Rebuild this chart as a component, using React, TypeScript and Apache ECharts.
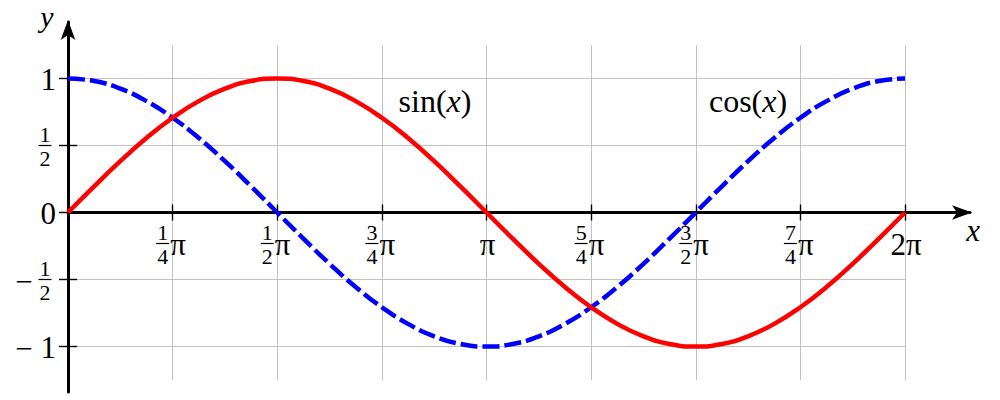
import React, { useEffect, useRef } from "react";
import * as echarts from "echarts";

// x in units of pi
const xValues = [0, 0.0625, 0.125, 0.1875, 0.25, 0.3125, 0.375, 0.4375, 0.5, 0.5625, 0.625, 0.6875, 0.75, 0.8125, 0.875, 0.9375, 1, 1.0625, 1.125, 1.1875, 1.25, 1.3125, 1.375, 1.4375, 1.5, 1.5625, 1.625, 1.6875, 1.75, 1.8125, 1.875, 1.9375, 2];
const sinValues = [0, 0.195, 0.383, 0.556, 0.707, 0.831, 0.924, 0.981, 1, 0.981, 0.924, 0.831, 0.707, 0.556, 0.383, 0.195, 0, -0.195, -0.383, -0.556, -0.707, -0.831, -0.924, -0.981, -1, -0.981, -0.924, -0.831, -0.707, -0.556, -0.383, -0.195, 0];
const cosValues = [1, 0.981, 0.924, 0.831, 0.707, 0.556, 0.383, 0.195, 0, -0.195, -0.383, -0.556, -0.707, -0.831, -0.924, -0.981, -1, -0.981, -0.924, -0.831, -0.707, -0.556, -0.383, -0.195, 0, 0.195, 0.383, 0.556, 0.707, 0.831, 0.924, 0.981, 1];

const xTickValues = [0.25, 0.5, 0.75, 1, 1.25, 1.5, 1.75, 2];
const xTickLabels = ["1/4", "1/2", "3/4", "", "5/4", "3/2", "7/4", "2"];
const yTickValues = [-1, -0.5, 0, 0.5, 1];
const yTickLabels = ["−1", "−1/2", "0", "1/2", "1"];

const FONT = "Liberation Serif";
const GRID_COLOR = "#c2c2c2";
const AXIS_W = 3;
const TICK_STYLE = { color: "#000", width: 1.4 };
const MAIN = 31;
const SMALL = 22;
const NOTE = 32;

function txt(text: string, x: number, y: number, size: number, align: string, italic = false) {
  return {
    type: "text",
    x,
    y,
    style: {
      text,
      fontSize: size,
      fontFamily: FONT,
      fontStyle: italic ? "italic" : "normal",
      fill: "#000",
      align,
      textAlign: align,
      verticalAlign: "middle",
      textVerticalAlign: "middle",
    },
  };
}

function bar(cx: number, cy: number) {
  return {
    type: "rect",
    shape: { x: cx - 6.5, y: cy - 0.6, width: 13, height: 1.2 },
    style: { fill: "#000" },
  };
}

function renderXLabel(params: any, api: any) {
  const i = params.dataIndex;
  const p = api.coord([api.value(0), api.value(1)]);
  const px = p[0];
  const py = p[1];
  const lab = xTickLabels[i];
  const children: any[] = [];
  if (lab.includes("/")) {
    const [n, d] = lab.split("/");
    const fx = px - 10;
    const by = py + 31;
    children.push(txt(n, fx, by - 11, SMALL, "center"));
    children.push(bar(fx, by));
    children.push(txt(d, fx, by + 12.5, SMALL, "center"));
    children.push(txt("π", px - 2.5, py + 32.4, MAIN, "left"));
  } else {
    children.push(txt(lab + "π", px + 1, py + 32.4, MAIN, "center"));
  }
  return { type: "group", children };
}

function renderYLabel(params: any, api: any) {
  const i = params.dataIndex;
  const p = api.coord([api.value(0), api.value(1)]);
  const px = p[0];
  const py = p[1];
  let lab = yTickLabels[i];
  const children: any[] = [];
  if (lab.startsWith("−")) {
    children.push(txt("−", px - 44, py + 2, MAIN, "center"));
    lab = lab.slice(1);
  }
  if (lab.includes("/")) {
    const [n, d] = lab.split("/");
    const fx = px - 23;
    children.push(txt(n, fx, py - 11, SMALL, "center"));
    children.push(bar(fx, py));
    children.push(txt(d, fx, py + 12.5, SMALL, "center"));
  } else {
    children.push(txt(lab, px - 12, py + 0.5, MAIN, "right"));
  }
  return { type: "group", children };
}

function richLabel(fn: string, x: number, y: number) {
  return {
    type: "text",
    x,
    y,
    z: 10,
    style: {
      text: `{r|${fn}(}{i|x}{r|)}`,
      rich: {
        r: { fontSize: NOTE, fontFamily: FONT, fill: "#000" },
        i: { fontSize: NOTE, fontFamily: FONT, fontStyle: "italic", fill: "#000" },
      },
      fontSize: NOTE,
      fontFamily: FONT,
      fill: "#000",
      align: "center",
      textAlign: "center",
      verticalAlign: "middle",
      textVerticalAlign: "middle",
    },
  };
}

export default function App() {
  const ref = useRef<HTMLDivElement>(null);
  useEffect(() => {
    if (!ref.current) return;
    const chart = echarts.init(ref.current, undefined, { renderer: "svg" });
    const hidden = { show: false };
    const option: any = {
      animation: false,
      backgroundColor: "#fff",
      textStyle: { fontFamily: FONT },
      grid: [
        { left: 68, right: 95, top: 45, bottom: 20 },
        { left: 68, right: 95, top: 78.5, bottom: 53.5 },
        { left: 68, right: 95, top: 45, bottom: 187.5 },
        { left: 68, right: 30, top: 20, bottom: 187.5 },
        { left: 68, right: 30, top: 22, bottom: 8 },
      ],
      xAxis: [
        {
          gridIndex: 0, type: "value", min: 0, max: 2, interval: 0.25,
          axisLine: { show: false, onZero: false }, axisTick: hidden, axisLabel: hidden,
          splitLine: { show: true, lineStyle: { color: GRID_COLOR, width: 1 } },
        },
        { gridIndex: 1, type: "value", min: 0, max: 2, show: false },
        {
          gridIndex: 2, type: "value", min: 0, max: 2, interval: 0.25, position: "bottom",
          axisLine: { show: false, onZero: false },
          axisTick: { show: true, length: 8, lineStyle: TICK_STYLE },
          axisLabel: hidden, splitLine: hidden,
        },
        {
          gridIndex: 2, type: "value", min: 0, max: 2, interval: 0.25, position: "bottom",
          axisLine: { show: false, onZero: false },
          axisTick: { show: true, inside: true, length: 8, lineStyle: TICK_STYLE },
          axisLabel: hidden, splitLine: hidden,
        },
        {
          gridIndex: 3, type: "value", min: 0, max: 1, position: "bottom",
          axisLine: {
            show: true, onZero: false, symbol: ["none", "arrow"], symbolSize: [11, 20],
            symbolOffset: [0, 2],
            lineStyle: { color: "#000", width: AXIS_W },
          },
          axisTick: hidden, axisLabel: hidden, splitLine: hidden,
        },
        { gridIndex: 4, type: "value", min: 0, max: 1, show: false },
      ],
      yAxis: [
        { gridIndex: 0, type: "value", min: -1.25, max: 1.25, show: false },
        {
          gridIndex: 1, type: "value", min: -1, max: 1, interval: 0.5, position: "left",
          axisLine: { show: false, onZero: false },
          axisTick: { show: true, length: 9, lineStyle: TICK_STYLE },
          axisLabel: hidden,
          splitLine: { show: true, lineStyle: { color: GRID_COLOR, width: 1 } },
        },
        {
          gridIndex: 1, type: "value", min: -1, max: 1, interval: 0.5, position: "left",
          axisLine: { show: false, onZero: false },
          axisTick: { show: true, inside: true, length: 9, lineStyle: TICK_STYLE },
          axisLabel: hidden, splitLine: hidden,
        },
        { gridIndex: 2, type: "value", min: 0, max: 1, show: false },
        { gridIndex: 3, type: "value", min: 0, max: 1, show: false },
        {
          gridIndex: 4, type: "value", min: 0, max: 1, position: "left",
          axisLine: {
            show: true, onZero: false, symbol: ["none", "arrow"], symbolSize: [11, 20],
            symbolOffset: [0, 2],
            lineStyle: { color: "#000", width: AXIS_W },
          },
          axisTick: hidden, axisLabel: hidden, splitLine: hidden,
        },
      ],
      series: [
        {
          name: "cos(x)", type: "line", xAxisIndex: 0, yAxisIndex: 0,
          data: xValues.map((x, i) => [x, cosValues[i]]),
          smooth: true, showSymbol: false, symbol: "none", z: 3,
          lineStyle: { color: "#0000ff", width: 4.5, type: [17, 5] },
        },
        {
          name: "sin(x)", type: "line", xAxisIndex: 0, yAxisIndex: 0,
          data: xValues.map((x, i) => [x, sinValues[i]]),
          smooth: true, showSymbol: false, symbol: "none", z: 4,
          lineStyle: { color: "#ff0000", width: 4.5, type: "solid" },
        },
        {
          type: "custom", xAxisIndex: 0, yAxisIndex: 0, z: 6,
          data: xTickValues.map((v) => [v, 0]),
          renderItem: renderXLabel, silent: true,
        },
        {
          type: "custom", xAxisIndex: 0, yAxisIndex: 0, z: 6,
          data: yTickValues.map((v) => [0, v]),
          renderItem: renderYLabel, silent: true,
        },
      ],
      graphic: [
        txt("y", 47, 16.5, 30, "center", true),
        txt("x", 973, 230, MAIN, "center", true),
        richLabel("sin", 435, 101),
        richLabel("cos", 748, 101),
      ],
    };
    chart.setOption(option);
    return () => chart.dispose();
  }, []);
  return (
    <div
      ref={ref}
      style={{ position: "absolute", left: 0, top: 0, width: 1000, height: 400 }}
    />
  );
}
